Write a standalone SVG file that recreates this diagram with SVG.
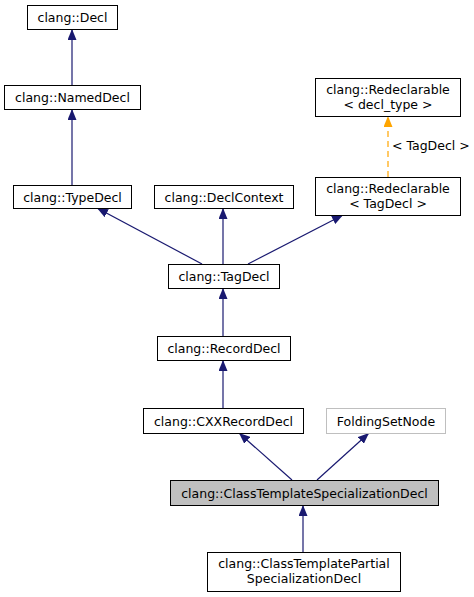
<svg xmlns="http://www.w3.org/2000/svg" width="474" height="597" viewBox="0 0 474 597">
<style>
.box{fill:#ffffff;stroke:#000000;stroke-width:1}
.gray{fill:#bfbfbf;stroke:#000000;stroke-width:1}
.ext{fill:#ffffff;stroke:#bfbfbf;stroke-width:1}
text{font-family:"DejaVu Sans","Liberation Sans",sans-serif;font-size:12.5px;fill:#000000;text-anchor:middle}
.edge{fill:none;stroke:#191970;stroke-width:1.2}
.tmpl{fill:none;stroke:#ffa500;stroke-width:1.2;stroke-dasharray:6,4}
.lbl{text-anchor:start}
</style>
<defs>
<marker id="ab" markerUnits="userSpaceOnUse" markerWidth="11" markerHeight="9" refX="11" refY="4.5" orient="auto">
<path d="M0,0 L11,4.5 L0,9 z" fill="#191970"/>
</marker>
<marker id="ao" markerUnits="userSpaceOnUse" markerWidth="11" markerHeight="9" refX="11" refY="4.5" orient="auto">
<path d="M0,0 L11,4.5 L0,9 z" fill="#ffa500"/>
</marker>
</defs>
<g id="edges">
<path class="edge" d="M72,85 L72,29" marker-end="url(#ab)"/>
<path class="edge" d="M72,185 L72,109" marker-end="url(#ab)"/>
<path class="edge" d="M202,264 L97,208" marker-end="url(#ab)"/>
<path class="edge" d="M223,264 L223,208" marker-end="url(#ab)"/>
<path class="edge" d="M248,264 L343,215" marker-end="url(#ab)"/>
<path class="tmpl" d="M388,177 L388,116" marker-end="url(#ao)"/>
<text class="lbl" x="392" y="149.5">&lt; TagDecl &gt;</text>
<path class="edge" d="M223,336 L223,288" marker-end="url(#ab)"/>
<path class="edge" d="M223,408 L223,360" marker-end="url(#ab)"/>
<path class="edge" d="M292,480 L239,433" marker-end="url(#ab)"/>
<path class="edge" d="M317,480 L369,433" marker-end="url(#ab)"/>
<path class="edge" d="M303,552 L303,505" marker-end="url(#ab)"/>
</g>
<g id="Decl"><rect class="box" x="27.5" y="5.5" width="90" height="24"/><text x="72.5" y="22">clang::Decl</text></g>
<g id="NamedDecl"><rect class="box" x="4.5" y="85.5" width="136" height="24"/><text x="72.5" y="102">clang::NamedDecl</text></g>
<g id="TypeDecl"><rect class="box" x="13.5" y="185.5" width="118" height="23"/><text x="72.5" y="201.5">clang::TypeDecl</text></g>
<g id="DeclContext"><rect class="box" x="154.5" y="185.5" width="139" height="23"/><text x="224" y="201.5">clang::DeclContext</text></g>
<g id="RedeclDeclType"><rect class="box" x="315.5" y="78.5" width="145" height="38"/><text x="388" y="94">clang::Redeclarable</text><text x="388" y="108.5">&lt; decl_type &gt;</text></g>
<g id="RedeclTagDecl"><rect class="box" x="315.5" y="177.5" width="145" height="38"/><text x="388" y="193">clang::Redeclarable</text><text x="388" y="207.5">&lt; TagDecl &gt;</text></g>
<g id="TagDecl"><rect class="box" x="168.5" y="264.5" width="111" height="24"/><text x="224" y="281">clang::TagDecl</text></g>
<g id="RecordDecl"><rect class="box" x="157.5" y="336.5" width="133" height="24"/><text x="224" y="353">clang::RecordDecl</text></g>
<g id="CXXRecordDecl"><rect class="box" x="143.5" y="408.5" width="160" height="25"/><text x="223.5" y="425.5">clang::CXXRecordDecl</text></g>
<g id="FoldingSetNode"><rect class="ext" x="326.5" y="408.5" width="119" height="25"/><text x="386" y="425.5">FoldingSetNode</text></g>
<g id="CTSD"><rect class="gray" x="170.5" y="480.5" width="268" height="25"/><text x="304.5" y="497.5">clang::ClassTemplateSpecializationDecl</text></g>
<g id="CTPSD"><rect class="box" x="207.5" y="552.5" width="193" height="39"/><text x="304" y="568">clang::ClassTemplatePartial</text><text x="304" y="582.5">SpecializationDecl</text></g>
</svg>
